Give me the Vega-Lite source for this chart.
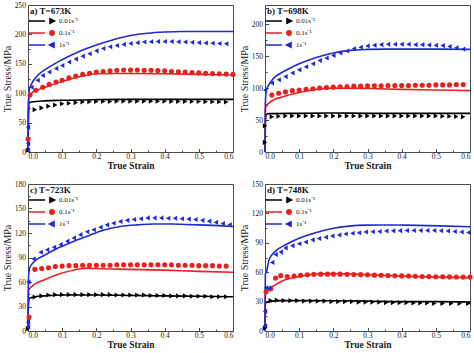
{
"$schema": "https://vega.github.io/schema/vega-lite/v6.json",
"background": "white",
"padding": {"left": 1, "top": 0, "right": 0, "bottom": 0},
"datasets": {
"fit": [
{"p":"a","r":"0.01s⁻¹","x":0,"y":0},{"p":"a","r":"0.01s⁻¹","x":0.001,"y":60},{"p":"a","r":"0.01s⁻¹","x":0.003,"y":83},{"p":"a","r":"0.01s⁻¹","x":0.01,"y":85},{"p":"a","r":"0.01s⁻¹","x":0.05,"y":87},{"p":"a","r":"0.01s⁻¹","x":0.1,"y":88},{"p":"a","r":"0.01s⁻¹","x":0.2,"y":89},{"p":"a","r":"0.01s⁻¹","x":0.3,"y":89.5},{"p":"a","r":"0.01s⁻¹","x":0.4,"y":89.5},{"p":"a","r":"0.01s⁻¹","x":0.5,"y":89.5},{"p":"a","r":"0.01s⁻¹","x":0.6,"y":89.5},
{"p":"a","r":"0.1s⁻¹","x":0,"y":0},{"p":"a","r":"0.1s⁻¹","x":0.001,"y":85},{"p":"a","r":"0.1s⁻¹","x":0.003,"y":93},{"p":"a","r":"0.1s⁻¹","x":0.01,"y":100},{"p":"a","r":"0.1s⁻¹","x":0.03,"y":106},{"p":"a","r":"0.1s⁻¹","x":0.05,"y":110},{"p":"a","r":"0.1s⁻¹","x":0.1,"y":120},{"p":"a","r":"0.1s⁻¹","x":0.15,"y":128},{"p":"a","r":"0.1s⁻¹","x":0.2,"y":133},{"p":"a","r":"0.1s⁻¹","x":0.25,"y":133.5},{"p":"a","r":"0.1s⁻¹","x":0.3,"y":133.5},{"p":"a","r":"0.1s⁻¹","x":0.4,"y":133},{"p":"a","r":"0.1s⁻¹","x":0.5,"y":132},{"p":"a","r":"0.1s⁻¹","x":0.6,"y":131},
{"p":"a","r":"1s⁻¹","x":0,"y":0},{"p":"a","r":"1s⁻¹","x":0.001,"y":45},{"p":"a","r":"1s⁻¹","x":0.003,"y":105},{"p":"a","r":"1s⁻¹","x":0.008,"y":113},{"p":"a","r":"1s⁻¹","x":0.028,"y":130},{"p":"a","r":"1s⁻¹","x":0.058,"y":143},{"p":"a","r":"1s⁻¹","x":0.1,"y":157},{"p":"a","r":"1s⁻¹","x":0.15,"y":171},{"p":"a","r":"1s⁻¹","x":0.2,"y":182},{"p":"a","r":"1s⁻¹","x":0.25,"y":191},{"p":"a","r":"1s⁻¹","x":0.3,"y":198},{"p":"a","r":"1s⁻¹","x":0.35,"y":202},{"p":"a","r":"1s⁻¹","x":0.4,"y":204},{"p":"a","r":"1s⁻¹","x":0.45,"y":205},{"p":"a","r":"1s⁻¹","x":0.5,"y":205},{"p":"a","r":"1s⁻¹","x":0.6,"y":205},
{"p":"b","r":"0.01s⁻¹","x":0,"y":0},{"p":"b","r":"0.01s⁻¹","x":0.001,"y":40},{"p":"b","r":"0.01s⁻¹","x":0.003,"y":58},{"p":"b","r":"0.01s⁻¹","x":0.01,"y":60},{"p":"b","r":"0.01s⁻¹","x":0.1,"y":60.5},{"p":"b","r":"0.01s⁻¹","x":0.2,"y":61},{"p":"b","r":"0.01s⁻¹","x":0.3,"y":60.5},{"p":"b","r":"0.01s⁻¹","x":0.4,"y":60.5},{"p":"b","r":"0.01s⁻¹","x":0.5,"y":60.5},{"p":"b","r":"0.01s⁻¹","x":0.6,"y":60.5},
{"p":"b","r":"0.1s⁻¹","x":0,"y":0},{"p":"b","r":"0.1s⁻¹","x":0.001,"y":60},{"p":"b","r":"0.1s⁻¹","x":0.002,"y":70},{"p":"b","r":"0.1s⁻¹","x":0.02,"y":80},{"p":"b","r":"0.1s⁻¹","x":0.05,"y":86},{"p":"b","r":"0.1s⁻¹","x":0.1,"y":93},{"p":"b","r":"0.1s⁻¹","x":0.15,"y":98},{"p":"b","r":"0.1s⁻¹","x":0.2,"y":100},{"p":"b","r":"0.1s⁻¹","x":0.3,"y":99.5},{"p":"b","r":"0.1s⁻¹","x":0.4,"y":98},{"p":"b","r":"0.1s⁻¹","x":0.5,"y":97},{"p":"b","r":"0.1s⁻¹","x":0.6,"y":96},
{"p":"b","r":"1s⁻¹","x":0,"y":0},{"p":"b","r":"1s⁻¹","x":0.001,"y":75},{"p":"b","r":"1s⁻¹","x":0.004,"y":97},{"p":"b","r":"1s⁻¹","x":0.02,"y":112},{"p":"b","r":"1s⁻¹","x":0.06,"y":127.5},{"p":"b","r":"1s⁻¹","x":0.1,"y":138},{"p":"b","r":"1s⁻¹","x":0.15,"y":148},{"p":"b","r":"1s⁻¹","x":0.2,"y":155},{"p":"b","r":"1s⁻¹","x":0.25,"y":159},{"p":"b","r":"1s⁻¹","x":0.3,"y":160.5},{"p":"b","r":"1s⁻¹","x":0.35,"y":161},{"p":"b","r":"1s⁻¹","x":0.4,"y":161},{"p":"b","r":"1s⁻¹","x":0.5,"y":161},{"p":"b","r":"1s⁻¹","x":0.6,"y":160.5},
{"p":"c","r":"0.01s⁻¹","x":0,"y":0},{"p":"c","r":"0.01s⁻¹","x":0.001,"y":30},{"p":"c","r":"0.01s⁻¹","x":0.004,"y":40},{"p":"c","r":"0.01s⁻¹","x":0.02,"y":42},{"p":"c","r":"0.01s⁻¹","x":0.05,"y":43},{"p":"c","r":"0.01s⁻¹","x":0.1,"y":44},{"p":"c","r":"0.01s⁻¹","x":0.2,"y":44},{"p":"c","r":"0.01s⁻¹","x":0.3,"y":43.5},{"p":"c","r":"0.01s⁻¹","x":0.4,"y":43},{"p":"c","r":"0.01s⁻¹","x":0.5,"y":42.5},{"p":"c","r":"0.01s⁻¹","x":0.6,"y":42},
{"p":"c","r":"0.1s⁻¹","x":0,"y":0},{"p":"c","r":"0.1s⁻¹","x":0.001,"y":40},{"p":"c","r":"0.1s⁻¹","x":0.002,"y":50},{"p":"c","r":"0.1s⁻¹","x":0.01,"y":54},{"p":"c","r":"0.1s⁻¹","x":0.05,"y":63},{"p":"c","r":"0.1s⁻¹","x":0.1,"y":71},{"p":"c","r":"0.1s⁻¹","x":0.15,"y":76},{"p":"c","r":"0.1s⁻¹","x":0.17,"y":77},{"p":"c","r":"0.1s⁻¹","x":0.2,"y":76.5},{"p":"c","r":"0.1s⁻¹","x":0.3,"y":75.5},{"p":"c","r":"0.1s⁻¹","x":0.4,"y":74.5},{"p":"c","r":"0.1s⁻¹","x":0.5,"y":73},{"p":"c","r":"0.1s⁻¹","x":0.6,"y":72},
{"p":"c","r":"1s⁻¹","x":0,"y":0},{"p":"c","r":"1s⁻¹","x":0.001,"y":60},{"p":"c","r":"1s⁻¹","x":0.004,"y":76.5},{"p":"c","r":"1s⁻¹","x":0.017,"y":84.5},{"p":"c","r":"1s⁻¹","x":0.047,"y":92.5},{"p":"c","r":"1s⁻¹","x":0.085,"y":101},{"p":"c","r":"1s⁻¹","x":0.124,"y":108},{"p":"c","r":"1s⁻¹","x":0.173,"y":116},{"p":"c","r":"1s⁻¹","x":0.22,"y":123.5},{"p":"c","r":"1s⁻¹","x":0.27,"y":128},{"p":"c","r":"1s⁻¹","x":0.32,"y":130},{"p":"c","r":"1s⁻¹","x":0.37,"y":131},{"p":"c","r":"1s⁻¹","x":0.42,"y":131},{"p":"c","r":"1s⁻¹","x":0.46,"y":130.5},{"p":"c","r":"1s⁻¹","x":0.5,"y":130},{"p":"c","r":"1s⁻¹","x":0.6,"y":128},
{"p":"d","r":"0.01s⁻¹","x":0,"y":0},{"p":"d","r":"0.01s⁻¹","x":0.001,"y":28},{"p":"d","r":"0.01s⁻¹","x":0.005,"y":29.5},{"p":"d","r":"0.01s⁻¹","x":0.05,"y":31},{"p":"d","r":"0.01s⁻¹","x":0.1,"y":31},{"p":"d","r":"0.01s⁻¹","x":0.2,"y":30.8},{"p":"d","r":"0.01s⁻¹","x":0.3,"y":30.5},{"p":"d","r":"0.01s⁻¹","x":0.4,"y":30},{"p":"d","r":"0.01s⁻¹","x":0.5,"y":30},{"p":"d","r":"0.01s⁻¹","x":0.6,"y":29.5},
{"p":"d","r":"0.1s⁻¹","x":0,"y":0},{"p":"d","r":"0.1s⁻¹","x":0.001,"y":36},{"p":"d","r":"0.1s⁻¹","x":0.002,"y":38},{"p":"d","r":"0.1s⁻¹","x":0.01,"y":42},{"p":"d","r":"0.1s⁻¹","x":0.03,"y":47},{"p":"d","r":"0.1s⁻¹","x":0.05,"y":51},{"p":"d","r":"0.1s⁻¹","x":0.1,"y":55.5},{"p":"d","r":"0.1s⁻¹","x":0.15,"y":58},{"p":"d","r":"0.1s⁻¹","x":0.2,"y":58.5},{"p":"d","r":"0.1s⁻¹","x":0.3,"y":57.5},{"p":"d","r":"0.1s⁻¹","x":0.4,"y":56},{"p":"d","r":"0.1s⁻¹","x":0.5,"y":55},{"p":"d","r":"0.1s⁻¹","x":0.6,"y":54.5},
{"p":"d","r":"1s⁻¹","x":0,"y":0},{"p":"d","r":"1s⁻¹","x":0.001,"y":58},{"p":"d","r":"1s⁻¹","x":0.004,"y":60},{"p":"d","r":"1s⁻¹","x":0.012,"y":73},{"p":"d","r":"1s⁻¹","x":0.031,"y":81.5},{"p":"d","r":"1s⁻¹","x":0.06,"y":88},{"p":"d","r":"1s⁻¹","x":0.1,"y":94.7},{"p":"d","r":"1s⁻¹","x":0.148,"y":100.3},{"p":"d","r":"1s⁻¹","x":0.197,"y":104.6},{"p":"d","r":"1s⁻¹","x":0.246,"y":107},{"p":"d","r":"1s⁻¹","x":0.295,"y":108},{"p":"d","r":"1s⁻¹","x":0.343,"y":108.2},{"p":"d","r":"1s⁻¹","x":0.41,"y":108},{"p":"d","r":"1s⁻¹","x":0.51,"y":107.3},{"p":"d","r":"1s⁻¹","x":0.6,"y":106.3}
],
"exp": [
{"p":"a","r":"0.01s⁻¹","x":0.0,"y":3},{"p":"a","r":"0.01s⁻¹","x":0.02,"y":72},{"p":"a","r":"0.01s⁻¹","x":0.04,"y":75},{"p":"a","r":"0.01s⁻¹","x":0.06,"y":78},{"p":"a","r":"0.01s⁻¹","x":0.08,"y":80},{"p":"a","r":"0.01s⁻¹","x":0.10,"y":82},{"p":"a","r":"0.01s⁻¹","x":0.12,"y":83},{"p":"a","r":"0.01s⁻¹","x":0.14,"y":84},{"p":"a","r":"0.01s⁻¹","x":0.16,"y":85},{"p":"a","r":"0.01s⁻¹","x":0.18,"y":85.5},{"p":"a","r":"0.01s⁻¹","x":0.20,"y":86},{"p":"a","r":"0.01s⁻¹","x":0.22,"y":86},{"p":"a","r":"0.01s⁻¹","x":0.24,"y":86},{"p":"a","r":"0.01s⁻¹","x":0.26,"y":86.5},{"p":"a","r":"0.01s⁻¹","x":0.28,"y":86.5},{"p":"a","r":"0.01s⁻¹","x":0.30,"y":86.5},{"p":"a","r":"0.01s⁻¹","x":0.32,"y":86.5},{"p":"a","r":"0.01s⁻¹","x":0.34,"y":86.5},{"p":"a","r":"0.01s⁻¹","x":0.36,"y":86.5},{"p":"a","r":"0.01s⁻¹","x":0.38,"y":86.5},{"p":"a","r":"0.01s⁻¹","x":0.40,"y":86.5},{"p":"a","r":"0.01s⁻¹","x":0.42,"y":86},{"p":"a","r":"0.01s⁻¹","x":0.44,"y":86},{"p":"a","r":"0.01s⁻¹","x":0.46,"y":86},{"p":"a","r":"0.01s⁻¹","x":0.48,"y":86},{"p":"a","r":"0.01s⁻¹","x":0.50,"y":86},{"p":"a","r":"0.01s⁻¹","x":0.52,"y":85.5},{"p":"a","r":"0.01s⁻¹","x":0.54,"y":85.5},{"p":"a","r":"0.01s⁻¹","x":0.56,"y":85.5},{"p":"a","r":"0.01s⁻¹","x":0.58,"y":85},
{"p":"a","r":"0.1s⁻¹","x":0.0,"y":22},{"p":"a","r":"0.1s⁻¹","x":0.006,"y":97},{"p":"a","r":"0.1s⁻¹","x":0.023,"y":105},{"p":"a","r":"0.1s⁻¹","x":0.043,"y":110},{"p":"a","r":"0.1s⁻¹","x":0.062,"y":115},{"p":"a","r":"0.1s⁻¹","x":0.082,"y":119},{"p":"a","r":"0.1s⁻¹","x":0.10,"y":122},{"p":"a","r":"0.1s⁻¹","x":0.12,"y":126},{"p":"a","r":"0.1s⁻¹","x":0.14,"y":129},{"p":"a","r":"0.1s⁻¹","x":0.16,"y":132},{"p":"a","r":"0.1s⁻¹","x":0.18,"y":134},{"p":"a","r":"0.1s⁻¹","x":0.20,"y":136},{"p":"a","r":"0.1s⁻¹","x":0.22,"y":137},{"p":"a","r":"0.1s⁻¹","x":0.24,"y":138},{"p":"a","r":"0.1s⁻¹","x":0.26,"y":139},{"p":"a","r":"0.1s⁻¹","x":0.28,"y":139.5},{"p":"a","r":"0.1s⁻¹","x":0.30,"y":139.5},{"p":"a","r":"0.1s⁻¹","x":0.32,"y":139.5},{"p":"a","r":"0.1s⁻¹","x":0.34,"y":139},{"p":"a","r":"0.1s⁻¹","x":0.36,"y":139},{"p":"a","r":"0.1s⁻¹","x":0.38,"y":138.5},{"p":"a","r":"0.1s⁻¹","x":0.40,"y":138},{"p":"a","r":"0.1s⁻¹","x":0.42,"y":137},{"p":"a","r":"0.1s⁻¹","x":0.44,"y":136.5},{"p":"a","r":"0.1s⁻¹","x":0.46,"y":136},{"p":"a","r":"0.1s⁻¹","x":0.48,"y":135},{"p":"a","r":"0.1s⁻¹","x":0.50,"y":134.5},{"p":"a","r":"0.1s⁻¹","x":0.52,"y":134},{"p":"a","r":"0.1s⁻¹","x":0.54,"y":133.5},{"p":"a","r":"0.1s⁻¹","x":0.56,"y":133},{"p":"a","r":"0.1s⁻¹","x":0.58,"y":132.5},{"p":"a","r":"0.1s⁻¹","x":0.60,"y":132},
{"p":"a","r":"1s⁻¹","x":0.0,"y":3},{"p":"a","r":"1s⁻¹","x":0.0,"y":14},{"p":"a","r":"1s⁻¹","x":0.0,"y":42},{"p":"a","r":"1s⁻¹","x":0.01,"y":110},{"p":"a","r":"1s⁻¹","x":0.028,"y":122},{"p":"a","r":"1s⁻¹","x":0.043,"y":130},{"p":"a","r":"1s⁻¹","x":0.062,"y":136},{"p":"a","r":"1s⁻¹","x":0.082,"y":142},{"p":"a","r":"1s⁻¹","x":0.10,"y":147},{"p":"a","r":"1s⁻¹","x":0.12,"y":153},{"p":"a","r":"1s⁻¹","x":0.14,"y":158},{"p":"a","r":"1s⁻¹","x":0.16,"y":163},{"p":"a","r":"1s⁻¹","x":0.18,"y":167},{"p":"a","r":"1s⁻¹","x":0.20,"y":172},{"p":"a","r":"1s⁻¹","x":0.22,"y":176},{"p":"a","r":"1s⁻¹","x":0.24,"y":179},{"p":"a","r":"1s⁻¹","x":0.26,"y":181},{"p":"a","r":"1s⁻¹","x":0.28,"y":183},{"p":"a","r":"1s⁻¹","x":0.30,"y":184.5},{"p":"a","r":"1s⁻¹","x":0.32,"y":186},{"p":"a","r":"1s⁻¹","x":0.34,"y":187},{"p":"a","r":"1s⁻¹","x":0.36,"y":187.5},{"p":"a","r":"1s⁻¹","x":0.38,"y":188},{"p":"a","r":"1s⁻¹","x":0.40,"y":188},{"p":"a","r":"1s⁻¹","x":0.42,"y":188},{"p":"a","r":"1s⁻¹","x":0.44,"y":187.5},{"p":"a","r":"1s⁻¹","x":0.46,"y":187},{"p":"a","r":"1s⁻¹","x":0.48,"y":186.5},{"p":"a","r":"1s⁻¹","x":0.50,"y":186},{"p":"a","r":"1s⁻¹","x":0.52,"y":185.5},{"p":"a","r":"1s⁻¹","x":0.54,"y":185},{"p":"a","r":"1s⁻¹","x":0.56,"y":184.5},{"p":"a","r":"1s⁻¹","x":0.58,"y":184},
{"p":"b","r":"0.01s⁻¹","x":0.0,"y":15},{"p":"b","r":"0.01s⁻¹","x":0.0,"y":41},{"p":"b","r":"0.01s⁻¹","x":0.02,"y":55},{"p":"b","r":"0.01s⁻¹","x":0.04,"y":56},{"p":"b","r":"0.01s⁻¹","x":0.06,"y":56.5},{"p":"b","r":"0.01s⁻¹","x":0.08,"y":56.5},{"p":"b","r":"0.01s⁻¹","x":0.10,"y":56.5},{"p":"b","r":"0.01s⁻¹","x":0.12,"y":56.5},{"p":"b","r":"0.01s⁻¹","x":0.14,"y":56.5},{"p":"b","r":"0.01s⁻¹","x":0.16,"y":56.5},{"p":"b","r":"0.01s⁻¹","x":0.18,"y":56.5},{"p":"b","r":"0.01s⁻¹","x":0.20,"y":56.5},{"p":"b","r":"0.01s⁻¹","x":0.22,"y":56.5},{"p":"b","r":"0.01s⁻¹","x":0.24,"y":56.5},{"p":"b","r":"0.01s⁻¹","x":0.26,"y":56.5},{"p":"b","r":"0.01s⁻¹","x":0.28,"y":56.5},{"p":"b","r":"0.01s⁻¹","x":0.30,"y":56.5},{"p":"b","r":"0.01s⁻¹","x":0.32,"y":56.5},{"p":"b","r":"0.01s⁻¹","x":0.34,"y":56.5},{"p":"b","r":"0.01s⁻¹","x":0.36,"y":56.5},{"p":"b","r":"0.01s⁻¹","x":0.38,"y":56.5},{"p":"b","r":"0.01s⁻¹","x":0.40,"y":56.5},{"p":"b","r":"0.01s⁻¹","x":0.42,"y":56.5},{"p":"b","r":"0.01s⁻¹","x":0.44,"y":56.5},{"p":"b","r":"0.01s⁻¹","x":0.46,"y":56.5},{"p":"b","r":"0.01s⁻¹","x":0.48,"y":56.5},{"p":"b","r":"0.01s⁻¹","x":0.50,"y":56.5},{"p":"b","r":"0.01s⁻¹","x":0.52,"y":56},{"p":"b","r":"0.01s⁻¹","x":0.54,"y":56},{"p":"b","r":"0.01s⁻¹","x":0.56,"y":55.5},{"p":"b","r":"0.01s⁻¹","x":0.58,"y":55},
{"p":"b","r":"0.1s⁻¹","x":0.02,"y":89},{"p":"b","r":"0.1s⁻¹","x":0.04,"y":92},{"p":"b","r":"0.1s⁻¹","x":0.06,"y":94},{"p":"b","r":"0.1s⁻¹","x":0.08,"y":96},{"p":"b","r":"0.1s⁻¹","x":0.10,"y":97},{"p":"b","r":"0.1s⁻¹","x":0.12,"y":98},{"p":"b","r":"0.1s⁻¹","x":0.14,"y":99},{"p":"b","r":"0.1s⁻¹","x":0.16,"y":100},{"p":"b","r":"0.1s⁻¹","x":0.18,"y":101},{"p":"b","r":"0.1s⁻¹","x":0.20,"y":101.5},{"p":"b","r":"0.1s⁻¹","x":0.22,"y":102},{"p":"b","r":"0.1s⁻¹","x":0.24,"y":102.5},{"p":"b","r":"0.1s⁻¹","x":0.26,"y":103},{"p":"b","r":"0.1s⁻¹","x":0.28,"y":103},{"p":"b","r":"0.1s⁻¹","x":0.30,"y":103.5},{"p":"b","r":"0.1s⁻¹","x":0.32,"y":103.5},{"p":"b","r":"0.1s⁻¹","x":0.34,"y":103.5},{"p":"b","r":"0.1s⁻¹","x":0.36,"y":104},{"p":"b","r":"0.1s⁻¹","x":0.38,"y":104},{"p":"b","r":"0.1s⁻¹","x":0.40,"y":104},{"p":"b","r":"0.1s⁻¹","x":0.42,"y":104},{"p":"b","r":"0.1s⁻¹","x":0.44,"y":104.5},{"p":"b","r":"0.1s⁻¹","x":0.46,"y":104.5},{"p":"b","r":"0.1s⁻¹","x":0.48,"y":104.5},{"p":"b","r":"0.1s⁻¹","x":0.50,"y":105},{"p":"b","r":"0.1s⁻¹","x":0.52,"y":105},{"p":"b","r":"0.1s⁻¹","x":0.54,"y":105},{"p":"b","r":"0.1s⁻¹","x":0.56,"y":105.5},{"p":"b","r":"0.1s⁻¹","x":0.58,"y":105.5},
{"p":"b","r":"1s⁻¹","x":0.0,"y":97},{"p":"b","r":"1s⁻¹","x":0.02,"y":108},{"p":"b","r":"1s⁻¹","x":0.04,"y":113},{"p":"b","r":"1s⁻¹","x":0.06,"y":118},{"p":"b","r":"1s⁻¹","x":0.08,"y":123.5},{"p":"b","r":"1s⁻¹","x":0.10,"y":128.5},{"p":"b","r":"1s⁻¹","x":0.12,"y":133.5},{"p":"b","r":"1s⁻¹","x":0.14,"y":138},{"p":"b","r":"1s⁻¹","x":0.16,"y":143},{"p":"b","r":"1s⁻¹","x":0.18,"y":147},{"p":"b","r":"1s⁻¹","x":0.20,"y":151},{"p":"b","r":"1s⁻¹","x":0.22,"y":155},{"p":"b","r":"1s⁻¹","x":0.24,"y":158},{"p":"b","r":"1s⁻¹","x":0.26,"y":161.5},{"p":"b","r":"1s⁻¹","x":0.28,"y":164},{"p":"b","r":"1s⁻¹","x":0.30,"y":166},{"p":"b","r":"1s⁻¹","x":0.32,"y":167},{"p":"b","r":"1s⁻¹","x":0.34,"y":168},{"p":"b","r":"1s⁻¹","x":0.36,"y":168.5},{"p":"b","r":"1s⁻¹","x":0.38,"y":168.5},{"p":"b","r":"1s⁻¹","x":0.40,"y":168.5},{"p":"b","r":"1s⁻¹","x":0.42,"y":168.5},{"p":"b","r":"1s⁻¹","x":0.44,"y":168},{"p":"b","r":"1s⁻¹","x":0.46,"y":168},{"p":"b","r":"1s⁻¹","x":0.48,"y":167.5},{"p":"b","r":"1s⁻¹","x":0.50,"y":167},{"p":"b","r":"1s⁻¹","x":0.52,"y":166.5},{"p":"b","r":"1s⁻¹","x":0.54,"y":165},{"p":"b","r":"1s⁻¹","x":0.56,"y":163},{"p":"b","r":"1s⁻¹","x":0.58,"y":161},
{"p":"c","r":"0.01s⁻¹","x":0.0,"y":3},{"p":"c","r":"0.01s⁻¹","x":0.02,"y":41.5},{"p":"c","r":"0.01s⁻¹","x":0.04,"y":43},{"p":"c","r":"0.01s⁻¹","x":0.06,"y":44},{"p":"c","r":"0.01s⁻¹","x":0.08,"y":44.5},{"p":"c","r":"0.01s⁻¹","x":0.10,"y":44.5},{"p":"c","r":"0.01s⁻¹","x":0.12,"y":44.5},{"p":"c","r":"0.01s⁻¹","x":0.14,"y":44.5},{"p":"c","r":"0.01s⁻¹","x":0.16,"y":44.5},{"p":"c","r":"0.01s⁻¹","x":0.18,"y":44.5},{"p":"c","r":"0.01s⁻¹","x":0.20,"y":44.5},{"p":"c","r":"0.01s⁻¹","x":0.22,"y":44.5},{"p":"c","r":"0.01s⁻¹","x":0.24,"y":44.5},{"p":"c","r":"0.01s⁻¹","x":0.26,"y":44},{"p":"c","r":"0.01s⁻¹","x":0.28,"y":44},{"p":"c","r":"0.01s⁻¹","x":0.30,"y":44},{"p":"c","r":"0.01s⁻¹","x":0.32,"y":44},{"p":"c","r":"0.01s⁻¹","x":0.34,"y":44},{"p":"c","r":"0.01s⁻¹","x":0.36,"y":43.5},{"p":"c","r":"0.01s⁻¹","x":0.38,"y":43.5},{"p":"c","r":"0.01s⁻¹","x":0.40,"y":43.5},{"p":"c","r":"0.01s⁻¹","x":0.42,"y":43},{"p":"c","r":"0.01s⁻¹","x":0.44,"y":43},{"p":"c","r":"0.01s⁻¹","x":0.46,"y":43},{"p":"c","r":"0.01s⁻¹","x":0.48,"y":42.5},{"p":"c","r":"0.01s⁻¹","x":0.50,"y":42.5},{"p":"c","r":"0.01s⁻¹","x":0.52,"y":42.5},{"p":"c","r":"0.01s⁻¹","x":0.54,"y":42},{"p":"c","r":"0.01s⁻¹","x":0.56,"y":42},{"p":"c","r":"0.01s⁻¹","x":0.58,"y":42},
{"p":"c","r":"0.1s⁻¹","x":0.003,"y":17},{"p":"c","r":"0.1s⁻¹","x":0.02,"y":75.5},{"p":"c","r":"0.1s⁻¹","x":0.04,"y":76.5},{"p":"c","r":"0.1s⁻¹","x":0.06,"y":77.5},{"p":"c","r":"0.1s⁻¹","x":0.08,"y":79},{"p":"c","r":"0.1s⁻¹","x":0.10,"y":79.5},{"p":"c","r":"0.1s⁻¹","x":0.12,"y":80},{"p":"c","r":"0.1s⁻¹","x":0.14,"y":80},{"p":"c","r":"0.1s⁻¹","x":0.16,"y":80.5},{"p":"c","r":"0.1s⁻¹","x":0.18,"y":80.5},{"p":"c","r":"0.1s⁻¹","x":0.20,"y":80.5},{"p":"c","r":"0.1s⁻¹","x":0.22,"y":80.5},{"p":"c","r":"0.1s⁻¹","x":0.24,"y":80.5},{"p":"c","r":"0.1s⁻¹","x":0.26,"y":81},{"p":"c","r":"0.1s⁻¹","x":0.28,"y":81},{"p":"c","r":"0.1s⁻¹","x":0.30,"y":81},{"p":"c","r":"0.1s⁻¹","x":0.32,"y":81},{"p":"c","r":"0.1s⁻¹","x":0.34,"y":81},{"p":"c","r":"0.1s⁻¹","x":0.36,"y":81},{"p":"c","r":"0.1s⁻¹","x":0.38,"y":81},{"p":"c","r":"0.1s⁻¹","x":0.40,"y":81},{"p":"c","r":"0.1s⁻¹","x":0.42,"y":81},{"p":"c","r":"0.1s⁻¹","x":0.44,"y":80.5},{"p":"c","r":"0.1s⁻¹","x":0.46,"y":80.5},{"p":"c","r":"0.1s⁻¹","x":0.48,"y":80.5},{"p":"c","r":"0.1s⁻¹","x":0.50,"y":80},{"p":"c","r":"0.1s⁻¹","x":0.52,"y":80},{"p":"c","r":"0.1s⁻¹","x":0.54,"y":80},{"p":"c","r":"0.1s⁻¹","x":0.56,"y":79.5},{"p":"c","r":"0.1s⁻¹","x":0.58,"y":79.5},
{"p":"c","r":"1s⁻¹","x":0.0,"y":5},{"p":"c","r":"1s⁻¹","x":0.0,"y":11},{"p":"c","r":"1s⁻¹","x":0.001,"y":60},{"p":"c","r":"1s⁻¹","x":0.016,"y":88.5},{"p":"c","r":"1s⁻¹","x":0.037,"y":96.5},{"p":"c","r":"1s⁻¹","x":0.056,"y":99.5},{"p":"c","r":"1s⁻¹","x":0.076,"y":102.5},{"p":"c","r":"1s⁻¹","x":0.095,"y":106},{"p":"c","r":"1s⁻¹","x":0.115,"y":110},{"p":"c","r":"1s⁻¹","x":0.134,"y":114},{"p":"c","r":"1s⁻¹","x":0.153,"y":118},{"p":"c","r":"1s⁻¹","x":0.173,"y":121.5},{"p":"c","r":"1s⁻¹","x":0.192,"y":124},{"p":"c","r":"1s⁻¹","x":0.212,"y":127},{"p":"c","r":"1s⁻¹","x":0.231,"y":130},{"p":"c","r":"1s⁻¹","x":0.25,"y":132},{"p":"c","r":"1s⁻¹","x":0.27,"y":134},{"p":"c","r":"1s⁻¹","x":0.29,"y":135.5},{"p":"c","r":"1s⁻¹","x":0.31,"y":136.5},{"p":"c","r":"1s⁻¹","x":0.33,"y":137.5},{"p":"c","r":"1s⁻¹","x":0.35,"y":138.5},{"p":"c","r":"1s⁻¹","x":0.37,"y":138.5},{"p":"c","r":"1s⁻¹","x":0.39,"y":138.5},{"p":"c","r":"1s⁻¹","x":0.41,"y":138},{"p":"c","r":"1s⁻¹","x":0.43,"y":138},{"p":"c","r":"1s⁻¹","x":0.45,"y":137.5},{"p":"c","r":"1s⁻¹","x":0.47,"y":137},{"p":"c","r":"1s⁻¹","x":0.49,"y":136.5},{"p":"c","r":"1s⁻¹","x":0.51,"y":135.5},{"p":"c","r":"1s⁻¹","x":0.53,"y":134.5},{"p":"c","r":"1s⁻¹","x":0.55,"y":133},{"p":"c","r":"1s⁻¹","x":0.57,"y":131.5},{"p":"c","r":"1s⁻¹","x":0.59,"y":130},
{"p":"d","r":"0.01s⁻¹","x":0.0,"y":3},{"p":"d","r":"0.01s⁻¹","x":0.017,"y":31},{"p":"d","r":"0.01s⁻¹","x":0.035,"y":31.5},{"p":"d","r":"0.01s⁻¹","x":0.055,"y":31},{"p":"d","r":"0.01s⁻¹","x":0.075,"y":31},{"p":"d","r":"0.01s⁻¹","x":0.095,"y":31},{"p":"d","r":"0.01s⁻¹","x":0.115,"y":30.5},{"p":"d","r":"0.01s⁻¹","x":0.135,"y":30.5},{"p":"d","r":"0.01s⁻¹","x":0.155,"y":30.5},{"p":"d","r":"0.01s⁻¹","x":0.175,"y":30.5},{"p":"d","r":"0.01s⁻¹","x":0.195,"y":30},{"p":"d","r":"0.01s⁻¹","x":0.215,"y":30},{"p":"d","r":"0.01s⁻¹","x":0.235,"y":30},{"p":"d","r":"0.01s⁻¹","x":0.255,"y":30},{"p":"d","r":"0.01s⁻¹","x":0.275,"y":29.5},{"p":"d","r":"0.01s⁻¹","x":0.295,"y":29.5},{"p":"d","r":"0.01s⁻¹","x":0.315,"y":29.5},{"p":"d","r":"0.01s⁻¹","x":0.335,"y":29.5},{"p":"d","r":"0.01s⁻¹","x":0.355,"y":29},{"p":"d","r":"0.01s⁻¹","x":0.375,"y":29},{"p":"d","r":"0.01s⁻¹","x":0.395,"y":29},{"p":"d","r":"0.01s⁻¹","x":0.415,"y":29},{"p":"d","r":"0.01s⁻¹","x":0.435,"y":28.5},{"p":"d","r":"0.01s⁻¹","x":0.455,"y":28.5},{"p":"d","r":"0.01s⁻¹","x":0.475,"y":28.5},{"p":"d","r":"0.01s⁻¹","x":0.495,"y":28},{"p":"d","r":"0.01s⁻¹","x":0.52,"y":28},{"p":"d","r":"0.01s⁻¹","x":0.545,"y":28},{"p":"d","r":"0.01s⁻¹","x":0.57,"y":28},{"p":"d","r":"0.01s⁻¹","x":0.595,"y":28},
{"p":"d","r":"0.1s⁻¹","x":0.003,"y":40},{"p":"d","r":"0.1s⁻¹","x":0.017,"y":43},{"p":"d","r":"0.1s⁻¹","x":0.031,"y":54},{"p":"d","r":"0.1s⁻¹","x":0.046,"y":56.5},{"p":"d","r":"0.1s⁻¹","x":0.065,"y":55.5},{"p":"d","r":"0.1s⁻¹","x":0.085,"y":56},{"p":"d","r":"0.1s⁻¹","x":0.104,"y":56.8},{"p":"d","r":"0.1s⁻¹","x":0.124,"y":57.4},{"p":"d","r":"0.1s⁻¹","x":0.143,"y":57.8},{"p":"d","r":"0.1s⁻¹","x":0.163,"y":58},{"p":"d","r":"0.1s⁻¹","x":0.183,"y":58},{"p":"d","r":"0.1s⁻¹","x":0.20,"y":58},{"p":"d","r":"0.1s⁻¹","x":0.22,"y":58},{"p":"d","r":"0.1s⁻¹","x":0.24,"y":57.8},{"p":"d","r":"0.1s⁻¹","x":0.26,"y":57.7},{"p":"d","r":"0.1s⁻¹","x":0.28,"y":57.5},{"p":"d","r":"0.1s⁻¹","x":0.30,"y":57.3},{"p":"d","r":"0.1s⁻¹","x":0.32,"y":57},{"p":"d","r":"0.1s⁻¹","x":0.34,"y":56.8},{"p":"d","r":"0.1s⁻¹","x":0.36,"y":56.6},{"p":"d","r":"0.1s⁻¹","x":0.38,"y":56.4},{"p":"d","r":"0.1s⁻¹","x":0.40,"y":56.2},{"p":"d","r":"0.1s⁻¹","x":0.42,"y":56},{"p":"d","r":"0.1s⁻¹","x":0.44,"y":55.8},{"p":"d","r":"0.1s⁻¹","x":0.46,"y":55.6},{"p":"d","r":"0.1s⁻¹","x":0.48,"y":55.5},{"p":"d","r":"0.1s⁻¹","x":0.50,"y":55.4},{"p":"d","r":"0.1s⁻¹","x":0.52,"y":55.3},{"p":"d","r":"0.1s⁻¹","x":0.54,"y":55.2},{"p":"d","r":"0.1s⁻¹","x":0.56,"y":55.1},{"p":"d","r":"0.1s⁻¹","x":0.58,"y":55},{"p":"d","r":"0.1s⁻¹","x":0.60,"y":55},
{"p":"d","r":"1s⁻¹","x":0.0,"y":5},{"p":"d","r":"1s⁻¹","x":0.0,"y":20},{"p":"d","r":"1s⁻¹","x":0.003,"y":44},{"p":"d","r":"1s⁻¹","x":0.012,"y":44},{"p":"d","r":"1s⁻¹","x":0.021,"y":70},{"p":"d","r":"1s⁻¹","x":0.031,"y":78},{"p":"d","r":"1s⁻¹","x":0.046,"y":80.5},{"p":"d","r":"1s⁻¹","x":0.06,"y":84.8},{"p":"d","r":"1s⁻¹","x":0.08,"y":87},{"p":"d","r":"1s⁻¹","x":0.10,"y":89},{"p":"d","r":"1s⁻¹","x":0.119,"y":90.8},{"p":"d","r":"1s⁻¹","x":0.139,"y":93},{"p":"d","r":"1s⁻¹","x":0.158,"y":94.4},{"p":"d","r":"1s⁻¹","x":0.178,"y":95.7},{"p":"d","r":"1s⁻¹","x":0.197,"y":97},{"p":"d","r":"1s⁻¹","x":0.217,"y":98},{"p":"d","r":"1s⁻¹","x":0.236,"y":99},{"p":"d","r":"1s⁻¹","x":0.256,"y":99.7},{"p":"d","r":"1s⁻¹","x":0.275,"y":100.3},{"p":"d","r":"1s⁻¹","x":0.295,"y":101},{"p":"d","r":"1s⁻¹","x":0.315,"y":101.3},{"p":"d","r":"1s⁻¹","x":0.335,"y":101.6},{"p":"d","r":"1s⁻¹","x":0.355,"y":102},{"p":"d","r":"1s⁻¹","x":0.375,"y":102.2},{"p":"d","r":"1s⁻¹","x":0.395,"y":102.4},{"p":"d","r":"1s⁻¹","x":0.415,"y":102.5},{"p":"d","r":"1s⁻¹","x":0.435,"y":102.6},{"p":"d","r":"1s⁻¹","x":0.455,"y":102.6},{"p":"d","r":"1s⁻¹","x":0.475,"y":102.6},{"p":"d","r":"1s⁻¹","x":0.495,"y":102.5},{"p":"d","r":"1s⁻¹","x":0.515,"y":102.3},{"p":"d","r":"1s⁻¹","x":0.535,"y":102},{"p":"d","r":"1s⁻¹","x":0.555,"y":101.5},{"p":"d","r":"1s⁻¹","x":0.575,"y":101},{"p":"d","r":"1s⁻¹","x":0.595,"y":100.5}
]
},
"columns": 2,
"spacing": {"row": 32, "column": 32},
"bounds": "flush",
"resolve": {"scale": {"color": "independent", "shape": "independent", "stroke": "independent"}},
"concat": [
{"width": 205, "height": 147,
 "layer": [
  {"data": {"name": "fit"}, "transform": [{"filter": "datum.p == 'a'"}],
   "mark": {"type": "line", "strokeWidth": 1.6, "interpolate": "monotone"},
   "encoding": {
    "x": {"field": "x", "type": "quantitative", "scale": {"domain": [0, 0.6], "nice": false}, "axis": {"title": "True Strain", "tickCount": 40, "labelOverlap": false, "values": [0,0.05,0.1,0.15,0.2,0.25,0.3,0.35,0.4,0.45,0.5,0.55,0.6], "labelExpr": "round(datum.value*100)%10==0 ? format(datum.value,'.1f') : ''", "tickSize": {"condition": {"test": "round(datum.value*100)%10!=0", "value": -2}, "value": -3.5}}},
    "y": {"field": "y", "type": "quantitative", "scale": {"domain": [0, 250], "nice": false}, "axis": {"title": "True Stress/MPa", "tickCount": 40, "labelOverlap": false, "values": [0,25,50,75,100,125,150,175,200,225,250], "labelExpr": "datum.value%50==0 ? datum.value : ''", "tickSize": {"condition": {"test": "datum.value%50!=0", "value": -2}, "value": -3.5}}},
    "stroke": {"field": "r", "type": "nominal", "scale": {"domain": ["0.01s⁻¹","0.1s⁻¹","1s⁻¹"], "range": ["#000000","#e8211f","#1f2ad0"]}, "legend": {"title": "a) T=673K", "symbolSize": 36, "encode": {"symbols": {"update": {"shape": {"signal": "datum.value == '0.01s⁻¹' ? 'M-7.7,0H-2.3M-0.7,-0.8L0.9,0L-0.7,0.8Z' : datum.value == '0.1s⁻¹' ? 'M-7.7,0H-2.3M-0.75,0A0.75,0.75,0,1,0,0.75,0A0.75,0.75,0,1,0,-0.75,0Z' : 'M-7.7,0H-2.3M0.7,-0.8L-0.9,0L0.7,0.8Z'"}, "size": {"value": 36}, "strokeWidth": {"value": 1.4}, "opacity": {"value": 1}}}}}}}},
  {"data": {"name": "exp"}, "transform": [{"filter": "datum.p == 'a'"}],
   "mark": {"type": "point", "filled": true, "size": 26, "opacity": 1},
   "encoding": {
    "x": {"field": "x", "type": "quantitative"},
    "y": {"field": "y", "type": "quantitative"},
    "color": {"field": "r", "type": "nominal", "scale": {"domain": ["0.01s⁻¹","0.1s⁻¹","1s⁻¹"], "range": ["#000000","#e8211f","#1f2ad0"]}, "legend": {"title": "a) T=673K", "symbolSize": 36, "encode": {"symbols": {"update": {"shape": {"signal": "datum.value == '0.01s⁻¹' ? 'M-7.7,0H-2.3M-0.7,-0.8L0.9,0L-0.7,0.8Z' : datum.value == '0.1s⁻¹' ? 'M-7.7,0H-2.3M-0.75,0A0.75,0.75,0,1,0,0.75,0A0.75,0.75,0,1,0,-0.75,0Z' : 'M-7.7,0H-2.3M0.7,-0.8L-0.9,0L0.7,0.8Z'"}, "size": {"value": 36}, "strokeWidth": {"value": 1.4}, "opacity": {"value": 1}}}}}},
    "shape": {"field": "r", "type": "nominal", "scale": {"range": ["triangle-right","circle","triangle-left"]}, "legend": null}}}
 ]},
{"width": 205, "height": 147,
 "layer": [
  {"data": {"name": "fit"}, "transform": [{"filter": "datum.p == 'b'"}],
   "mark": {"type": "line", "strokeWidth": 1.6, "interpolate": "monotone"},
   "encoding": {
    "x": {"field": "x", "type": "quantitative", "scale": {"domain": [0, 0.6], "nice": false}, "axis": {"title": "True Strain", "tickCount": 40, "labelOverlap": false, "values": [0,0.05,0.1,0.15,0.2,0.25,0.3,0.35,0.4,0.45,0.5,0.55,0.6], "labelExpr": "round(datum.value*100)%10==0 ? format(datum.value,'.1f') : ''", "tickSize": {"condition": {"test": "round(datum.value*100)%10!=0", "value": -2}, "value": -3.5}}},
    "y": {"field": "y", "type": "quantitative", "scale": {"domain": [0, 230], "nice": false}, "axis": {"title": "True Stress/MPa", "tickCount": 40, "labelOverlap": false, "values": [0,25,50,75,100,125,150,175,200,225], "labelExpr": "datum.value%50==0 ? datum.value : ''", "tickSize": {"condition": {"test": "datum.value%50!=0", "value": -2}, "value": -3.5}}},
    "stroke": {"field": "r", "type": "nominal", "scale": {"domain": ["0.01s⁻¹","0.1s⁻¹","1s⁻¹"], "range": ["#000000","#e8211f","#1f2ad0"]}, "legend": {"title": "b) T=698K", "symbolSize": 36, "encode": {"symbols": {"update": {"shape": {"signal": "datum.value == '0.01s⁻¹' ? 'M-7.7,0H-2.3M-0.7,-0.8L0.9,0L-0.7,0.8Z' : datum.value == '0.1s⁻¹' ? 'M-7.7,0H-2.3M-0.75,0A0.75,0.75,0,1,0,0.75,0A0.75,0.75,0,1,0,-0.75,0Z' : 'M-7.7,0H-2.3M0.7,-0.8L-0.9,0L0.7,0.8Z'"}, "size": {"value": 36}, "strokeWidth": {"value": 1.4}, "opacity": {"value": 1}}}}}}}},
  {"data": {"name": "exp"}, "transform": [{"filter": "datum.p == 'b'"}],
   "mark": {"type": "point", "filled": true, "size": 26, "opacity": 1},
   "encoding": {
    "x": {"field": "x", "type": "quantitative"},
    "y": {"field": "y", "type": "quantitative"},
    "color": {"field": "r", "type": "nominal", "scale": {"domain": ["0.01s⁻¹","0.1s⁻¹","1s⁻¹"], "range": ["#000000","#e8211f","#1f2ad0"]}, "legend": {"title": "b) T=698K", "symbolSize": 36, "encode": {"symbols": {"update": {"shape": {"signal": "datum.value == '0.01s⁻¹' ? 'M-7.7,0H-2.3M-0.7,-0.8L0.9,0L-0.7,0.8Z' : datum.value == '0.1s⁻¹' ? 'M-7.7,0H-2.3M-0.75,0A0.75,0.75,0,1,0,0.75,0A0.75,0.75,0,1,0,-0.75,0Z' : 'M-7.7,0H-2.3M0.7,-0.8L-0.9,0L0.7,0.8Z'"}, "size": {"value": 36}, "strokeWidth": {"value": 1.4}, "opacity": {"value": 1}}}}}},
    "shape": {"field": "r", "type": "nominal", "scale": {"range": ["triangle-right","circle","triangle-left"]}, "legend": null}}}
 ]},
{"width": 205, "height": 147,
 "layer": [
  {"data": {"name": "fit"}, "transform": [{"filter": "datum.p == 'c'"}],
   "mark": {"type": "line", "strokeWidth": 1.6, "interpolate": "monotone"},
   "encoding": {
    "x": {"field": "x", "type": "quantitative", "scale": {"domain": [0, 0.6], "nice": false}, "axis": {"title": "True Strain", "tickCount": 40, "labelOverlap": false, "values": [0,0.05,0.1,0.15,0.2,0.25,0.3,0.35,0.4,0.45,0.5,0.55,0.6], "labelExpr": "round(datum.value*100)%10==0 ? format(datum.value,'.1f') : ''", "tickSize": {"condition": {"test": "round(datum.value*100)%10!=0", "value": -2}, "value": -3.5}}},
    "y": {"field": "y", "type": "quantitative", "scale": {"domain": [0, 180], "nice": false}, "axis": {"title": "True Stress/MPa", "tickCount": 40, "labelOverlap": false, "values": [0,15,30,45,60,75,90,105,120,135,150,165,180], "labelExpr": "datum.value%30==0 ? datum.value : ''", "tickSize": {"condition": {"test": "datum.value%30!=0", "value": -2}, "value": -3.5}}},
    "stroke": {"field": "r", "type": "nominal", "scale": {"domain": ["0.01s⁻¹","0.1s⁻¹","1s⁻¹"], "range": ["#000000","#e8211f","#1f2ad0"]}, "legend": {"title": "c) T=723K", "symbolSize": 36, "encode": {"symbols": {"update": {"shape": {"signal": "datum.value == '0.01s⁻¹' ? 'M-7.7,0H-2.3M-0.7,-0.8L0.9,0L-0.7,0.8Z' : datum.value == '0.1s⁻¹' ? 'M-7.7,0H-2.3M-0.75,0A0.75,0.75,0,1,0,0.75,0A0.75,0.75,0,1,0,-0.75,0Z' : 'M-7.7,0H-2.3M0.7,-0.8L-0.9,0L0.7,0.8Z'"}, "size": {"value": 36}, "strokeWidth": {"value": 1.4}, "opacity": {"value": 1}}}}}}}},
  {"data": {"name": "exp"}, "transform": [{"filter": "datum.p == 'c'"}],
   "mark": {"type": "point", "filled": true, "size": 26, "opacity": 1},
   "encoding": {
    "x": {"field": "x", "type": "quantitative"},
    "y": {"field": "y", "type": "quantitative"},
    "color": {"field": "r", "type": "nominal", "scale": {"domain": ["0.01s⁻¹","0.1s⁻¹","1s⁻¹"], "range": ["#000000","#e8211f","#1f2ad0"]}, "legend": {"title": "c) T=723K", "symbolSize": 36, "encode": {"symbols": {"update": {"shape": {"signal": "datum.value == '0.01s⁻¹' ? 'M-7.7,0H-2.3M-0.7,-0.8L0.9,0L-0.7,0.8Z' : datum.value == '0.1s⁻¹' ? 'M-7.7,0H-2.3M-0.75,0A0.75,0.75,0,1,0,0.75,0A0.75,0.75,0,1,0,-0.75,0Z' : 'M-7.7,0H-2.3M0.7,-0.8L-0.9,0L0.7,0.8Z'"}, "size": {"value": 36}, "strokeWidth": {"value": 1.4}, "opacity": {"value": 1}}}}}},
    "shape": {"field": "r", "type": "nominal", "scale": {"range": ["triangle-right","circle","triangle-left"]}, "legend": null}}}
 ]},
{"width": 205, "height": 147,
 "layer": [
  {"data": {"name": "fit"}, "transform": [{"filter": "datum.p == 'd'"}],
   "mark": {"type": "line", "strokeWidth": 1.6, "interpolate": "monotone"},
   "encoding": {
    "x": {"field": "x", "type": "quantitative", "scale": {"domain": [0, 0.6], "nice": false}, "axis": {"title": "True Strain", "tickCount": 40, "labelOverlap": false, "values": [0,0.05,0.1,0.15,0.2,0.25,0.3,0.35,0.4,0.45,0.5,0.55,0.6], "labelExpr": "round(datum.value*100)%10==0 ? format(datum.value,'.1f') : ''", "tickSize": {"condition": {"test": "round(datum.value*100)%10!=0", "value": -2}, "value": -3.5}}},
    "y": {"field": "y", "type": "quantitative", "scale": {"domain": [0, 150], "nice": false}, "axis": {"title": "True Stress/MPa", "tickCount": 40, "labelOverlap": false, "values": [0,15,30,45,60,75,90,105,120,135,150], "labelExpr": "datum.value%30==0 ? datum.value : ''", "tickSize": {"condition": {"test": "datum.value%30!=0", "value": -2}, "value": -3.5}}},
    "stroke": {"field": "r", "type": "nominal", "scale": {"domain": ["0.01s⁻¹","0.1s⁻¹","1s⁻¹"], "range": ["#000000","#e8211f","#1f2ad0"]}, "legend": {"title": "d) T=748K", "symbolSize": 36, "encode": {"symbols": {"update": {"shape": {"signal": "datum.value == '0.01s⁻¹' ? 'M-7.7,0H-2.3M-0.7,-0.8L0.9,0L-0.7,0.8Z' : datum.value == '0.1s⁻¹' ? 'M-7.7,0H-2.3M-0.75,0A0.75,0.75,0,1,0,0.75,0A0.75,0.75,0,1,0,-0.75,0Z' : 'M-7.7,0H-2.3M0.7,-0.8L-0.9,0L0.7,0.8Z'"}, "size": {"value": 36}, "strokeWidth": {"value": 1.4}, "opacity": {"value": 1}}}}}}}},
  {"data": {"name": "exp"}, "transform": [{"filter": "datum.p == 'd'"}],
   "mark": {"type": "point", "filled": true, "size": 26, "opacity": 1},
   "encoding": {
    "x": {"field": "x", "type": "quantitative"},
    "y": {"field": "y", "type": "quantitative"},
    "color": {"field": "r", "type": "nominal", "scale": {"domain": ["0.01s⁻¹","0.1s⁻¹","1s⁻¹"], "range": ["#000000","#e8211f","#1f2ad0"]}, "legend": {"title": "d) T=748K", "symbolSize": 36, "encode": {"symbols": {"update": {"shape": {"signal": "datum.value == '0.01s⁻¹' ? 'M-7.7,0H-2.3M-0.7,-0.8L0.9,0L-0.7,0.8Z' : datum.value == '0.1s⁻¹' ? 'M-7.7,0H-2.3M-0.75,0A0.75,0.75,0,1,0,0.75,0A0.75,0.75,0,1,0,-0.75,0Z' : 'M-7.7,0H-2.3M0.7,-0.8L-0.9,0L0.7,0.8Z'"}, "size": {"value": 36}, "strokeWidth": {"value": 1.4}, "opacity": {"value": 1}}}}}},
    "shape": {"field": "r", "type": "nominal", "scale": {"range": ["triangle-right","circle","triangle-left"]}, "legend": null}}}
 ]}
],
"config": {
 "font": "Liberation Serif, Times New Roman, serif",
 "view": {"stroke": "#4a4a4a", "strokeWidth": 1},
 "axis": {"grid": false, "domain": false, "labelOverlap": false, "tickColor": "#4a4a4a", "tickWidth": 1, "labelFont": "Liberation Serif, Times New Roman, serif", "labelFontSize": 7.5, "labelColor": "#222", "titleFont": "Liberation Serif, Times New Roman, serif", "titleColor": "#222"},
 "axisX": {"labelPadding": 4, "titleFontSize": 9.5, "titleFontWeight": "bold", "titlePadding": -1, "labelAngle": 0},
 "axisY": {"labelPadding": 6, "titleFontSize": 10, "titleFontWeight": "normal", "titlePadding": 2},
 "legend": {
  "orient": "top-left", "offset": 2, "padding": 0,
  "titleFont": "Liberation Serif, Times New Roman, serif", "titleFontSize": 9, "titleFontWeight": "bold", "titleColor": "#111", "titlePadding": 1,
  "labelFont": "Liberation Serif, Times New Roman, serif", "labelFontSize": 7, "labelColor": "#111", "labelOffset": 3,
  "symbolSize": 36, "rowPadding": 0, "symbolOffset": 18, "symbolOpacity": 1, "symbolStrokeWidth": 1.4
 }
}
}
